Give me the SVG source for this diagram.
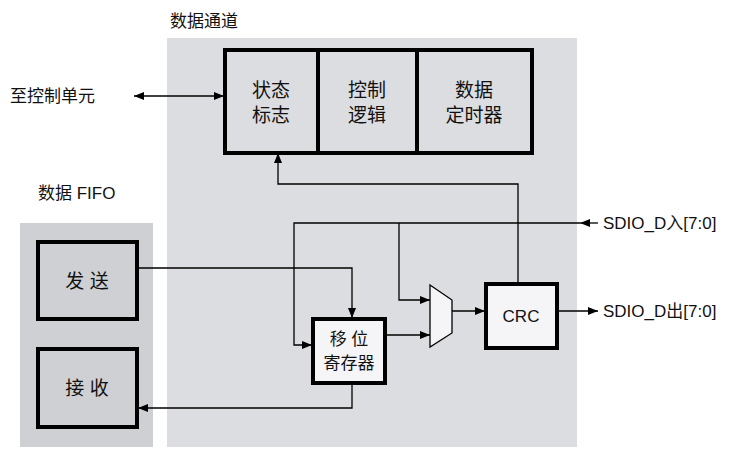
<svg xmlns="http://www.w3.org/2000/svg" width="744" height="467" viewBox="0 0 744 467">
<style>
text{font-family:"Liberation Sans","Noto Sans CJK SC",sans-serif;font-size:17px;fill:#111}
.k{font-size:19px}
.b{stroke:#000;stroke-width:4}
.l{fill:none;stroke:#000;stroke-width:1.3}
</style>
<defs><marker id="a" viewBox="0 0 10 10" refX="10" refY="5" markerWidth="10" markerHeight="10" markerUnits="userSpaceOnUse" orient="auto-start-reverse"><path d="M0,1 L10,5 L0,9z" fill="#000"/></marker></defs>
<rect width="744" height="467" fill="#fff"/>
<rect x="167" y="38" width="410" height="409" fill="#dcdde0"/>
<rect x="20" y="223" width="133" height="224" fill="#cfd0d3"/>
<text x="170" y="27">数据通道</text>
<text x="38" y="199">数据 FIFO</text>
<text x="10" y="102">至控制单元</text>
<g id="top"><rect class="b" x="225" y="50" width="307" height="103" fill="#dcdde0"/><line class="b" x1="318" y1="50" x2="318" y2="153"/><line class="b" x1="417" y1="50" x2="417" y2="153"/>
<text class="k" x="271" y="97" text-anchor="middle">状态</text><text class="k" x="271" y="122" text-anchor="middle">标志</text>
<text class="k" x="367" y="97" text-anchor="middle">控制</text><text class="k" x="367" y="122" text-anchor="middle">逻辑</text>
<text class="k" x="474" y="97" text-anchor="middle">数据</text><text class="k" x="474" y="122" text-anchor="middle">定时器</text></g>
<g id="send"><rect class="b" x="38" y="242" width="99" height="77" fill="#cfd0d3"/><text class="k" x="87" y="288" text-anchor="middle">发 送</text></g>
<g id="recv"><rect class="b" x="38" y="349" width="99" height="78" fill="#cfd0d3"/><text class="k" x="87" y="395" text-anchor="middle">接 收</text></g>
<g id="shift"><rect class="b" x="313" y="319" width="72" height="64" fill="#f5f5f8"/><text x="349" y="345" text-anchor="middle">移 位</text><text x="349" y="369" text-anchor="middle">寄存器</text></g>
<g id="mux"><path d="M430,285 L452,300 L452,333 L430,347 Z" fill="#f5f5f8" stroke="#000" stroke-width="1.3"/></g>
<g id="crc"><rect class="b" x="486" y="284" width="71" height="64" fill="#f5f5f8"/><text x="521" y="322" text-anchor="middle">CRC</text></g>
<text x="603" y="229">SDIO_D入[7:0]</text>
<text x="603" y="317">SDIO_D出[7:0]</text>
<g id="connectors">
<line class="l" x1="134" y1="96" x2="224" y2="96" marker-start="url(#a)" marker-end="url(#a)"/>
<path class="l" d="M518,284 V184 H278 V153" marker-end="url(#a)"/>
<line class="l" x1="598" y1="223" x2="580" y2="223" marker-end="url(#a)"/>
<path class="l" d="M580,223 H294 V345 H312" marker-end="url(#a)"/>
<path class="l" d="M399,223 V300 H430" marker-end="url(#a)"/>
<path class="l" d="M137,268 H352 V318" marker-end="url(#a)"/>
<path class="l" d="M385,335 H430" marker-end="url(#a)"/>
<path class="l" d="M452,311 H485" marker-end="url(#a)"/>
<path class="l" d="M557,311 H598" marker-end="url(#a)"/>
<path class="l" d="M352,383 V408 H138" marker-end="url(#a)"/>
</g>
</svg>
